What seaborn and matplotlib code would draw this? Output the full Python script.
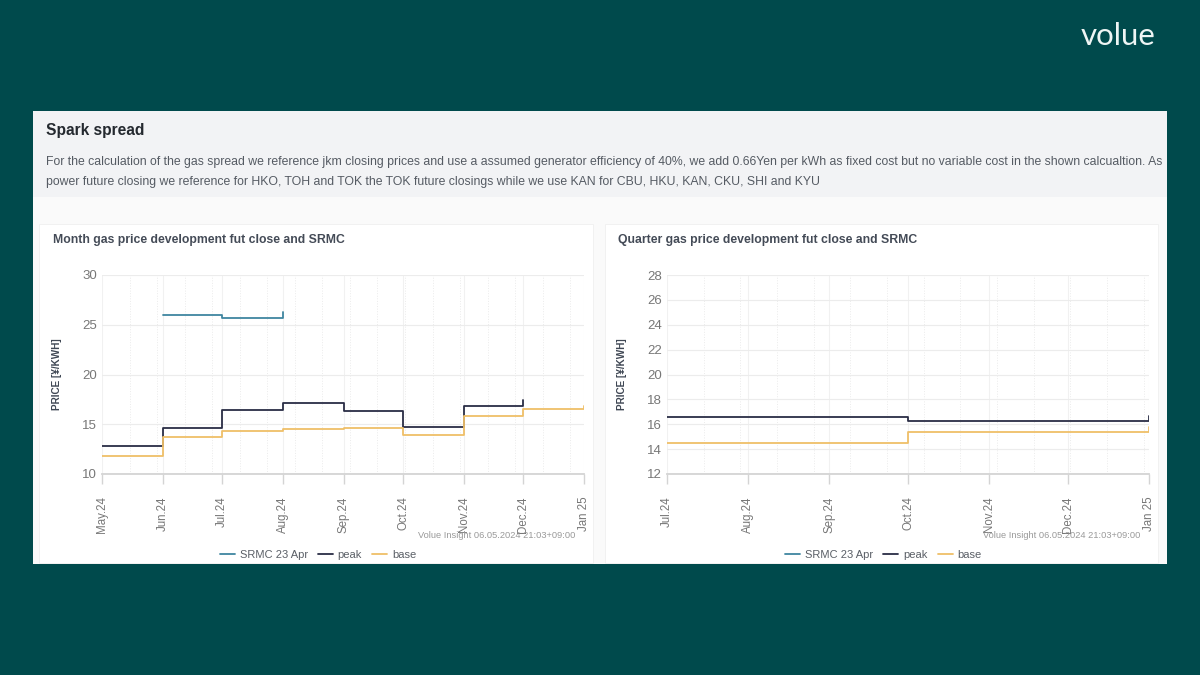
import matplotlib
matplotlib.use("Agg")
import matplotlib.pyplot as plt
import pandas as pd
import seaborn as sns
from matplotlib.patches import Rectangle

# month chart
month_dates = ["2024-05-01", "2024-06-01", "2024-07-01", "2024-08-01", "2024-09-01",
               "2024-10-01", "2024-11-01", "2024-12-01", "2025-01-01"]
month_labels = ["May.24", "Jun.24", "Jul.24", "Aug.24", "Sep.24", "Oct.24", "Nov.24", "Dec.24", "Jan 25"]
month_srmc_dates = ["2024-06-01", "2024-07-01", "2024-08-01"]
month_srmc = [26.0, 25.7, 26.3]
month_peak = [12.8, 14.6, 16.45, 17.1, 16.3, 14.7, 16.85, 17.45]
month_base = [11.8, 13.7, 14.35, 14.55, 14.65, 13.9, 15.8, 16.55, 16.8]

# quarter chart
quarter_ticks = ["2024-07-01", "2024-08-01", "2024-09-01", "2024-10-01", "2024-11-01", "2024-12-01", "2025-01-01"]
quarter_labels = ["Jul.24", "Aug.24", "Sep.24", "Oct.24", "Nov.24", "Dec.24", "Jan 25"]
quarter_dates = ["2024-07-01", "2024-10-01", "2025-01-01"]
quarter_peak = [16.6, 16.3, 16.7]
quarter_base = [14.5, 15.4, 15.75]

series_names = ["SRMC 23 Apr", "peak", "base"]
colors = {"SRMC 23 Apr": "#3f86a0", "peak": "#2a2d45", "base": "#efbf68"}

GRID = "#ececec"
TEXT = "#777777"

sns.set_theme(style="white")
plt.rcParams["font.family"] = ["Liberation Sans", "DejaVu Sans"]


def to_frame(name, dates, values):
    return pd.DataFrame({"Time": pd.to_datetime(dates), "Price": values, "Series": name})


def add_box(fig, left, top, right, bottom, color, edge="none"):
    fig.patches.append(Rectangle((left / 1200, 1 - bottom / 675), (right - left) / 1200, (bottom - top) / 675,
                                 transform=fig.transFigure, facecolor=color, edgecolor=edge, linewidth=0.6,
                                 zorder=-1))


def add_chart(fig, left, df, ticks, labels, ylim, ystep, legend_x, note_x):
    ax = fig.add_axes([left / 1200, 1 - 474 / 675, 482 / 1200, 199 / 675])
    ax.patch.set_alpha(0)
    sns.lineplot(data=df, x="Time", y="Price", hue="Series", hue_order=series_names, palette=colors,
                 drawstyle="steps-post", linewidth=1.3, errorbar=None, ax=ax)
    tick_dates = pd.to_datetime(ticks)
    ax.set_xlim(tick_dates[0], tick_dates[-1])
    ax.set_ylim(*ylim)
    ax.set_yticks(range(ylim[0], ylim[1] + 1, ystep))
    ax.set_xticks(tick_dates)
    ax.set_xticklabels(labels, rotation=90, fontsize=8.3, color=TEXT)
    ax.set_xticks(pd.date_range(tick_dates[0], tick_dates[-1], freq="14D"), minor=True)
    ax.tick_params(axis="x", which="major", length=7, width=1, color="#d4d4d4", pad=9, bottom=True)
    ax.tick_params(axis="x", which="minor", length=0)
    ax.tick_params(axis="y", length=0, pad=3.5, labelsize=9.5, labelcolor=TEXT)
    ax.grid(axis="y", color=GRID, linewidth=0.8)
    ax.grid(axis="x", which="major", color="#f1f1f1", linewidth=0.8)
    ax.grid(axis="x", which="minor", color="#ebebeb", linewidth=0.7, linestyle=":")
    ax.set_axisbelow(True)
    for side in ["top", "right", "left"]:
        ax.spines[side].set_visible(False)
    ax.spines["bottom"].set_color("#d4d4d4")
    ax.spines["bottom"].set_linewidth(1.3)
    ax.set_xlabel("")
    ax.set_ylabel("PRICE [¥/KWH]", fontsize=7.2, fontweight="bold", color="#3f4754", labelpad=0)
    ax.yaxis.set_label_coords(-40 / 482, 0.5)
    sns.move_legend(ax, "center", bbox_to_anchor=(legend_x / 1200, 1 - 555 / 675),
                    bbox_transform=fig.transFigure, ncol=3, frameon=False, title=None, fontsize=8,
                    labelcolor="#5a5f66", handlelength=1.35, columnspacing=0.9, handletextpad=0.45)
    fig.text(note_x / 1200, 1 - 536 / 675, "Volue Insight 06.05.2024 21:03+09:00", fontsize=6.7,
             color="#9a9a9a", ha="left", va="center")
    return ax


fig = plt.figure(figsize=(12, 6.75), dpi=100, facecolor="#004a4c")

add_box(fig, 33, 111, 1167, 563.6, "#fafafa")
add_box(fig, 33, 111, 1167, 197, "#f2f3f5")
add_box(fig, 39, 224, 593, 563.2, "#ffffff", "#f0f0f0")
add_box(fig, 605, 224, 1158, 563.2, "#ffffff", "#f0f0f0")

fig.text(46 / 1200, 1 - 131 / 675, "Spark spread", fontsize=11.2, fontweight="bold", color="#24292f", va="center")
fig.text(46 / 1200, 1 - 162.5 / 675,
         "For the calculation of the gas spread we reference jkm closing prices and use a assumed generator "
         "efficiency of 40%, we add 0.66Yen per kWh as fixed cost but no variable cost in the shown calcualtion. As",
         fontsize=8.8, color="#555b63", va="center")
fig.text(46 / 1200, 1 - 181.5 / 675,
         "power future closing we reference for HKO, TOH and TOK the TOK future closings while we use KAN for "
         "CBU, HKU, KAN, CKU, SHI and KYU",
         fontsize=8.8, color="#555b63", va="center")
fig.text(53 / 1200, 1 - 240 / 675, "Month gas price development fut close and SRMC", fontsize=8.8,
         fontweight="bold", color="#444b57", va="center")
fig.text(618 / 1200, 1 - 240 / 675, "Quarter gas price development fut close and SRMC", fontsize=8.8,
         fontweight="bold", color="#444b57", va="center")
fig.text(1118.5 / 1200, 1 - 36 / 675, "volue", fontsize=22.5, family="Lato", color="#eef5f4",
         ha="center", va="center")

month_df = pd.concat([
    to_frame("SRMC 23 Apr", month_srmc_dates, month_srmc),
    to_frame("peak", month_dates[:8], month_peak),
    to_frame("base", month_dates, month_base),
])
quarter_df = pd.concat([
    to_frame("peak", quarter_dates, quarter_peak),
    to_frame("base", quarter_dates, quarter_base),
])

add_chart(fig, 102, month_df, month_dates, month_labels, (10, 30), 5, 318, 418)
add_chart(fig, 667, quarter_df, quarter_ticks, quarter_labels, (12, 28), 2, 883.5, 983)

fig.savefig("out.png", dpi=100, facecolor=fig.get_facecolor())
